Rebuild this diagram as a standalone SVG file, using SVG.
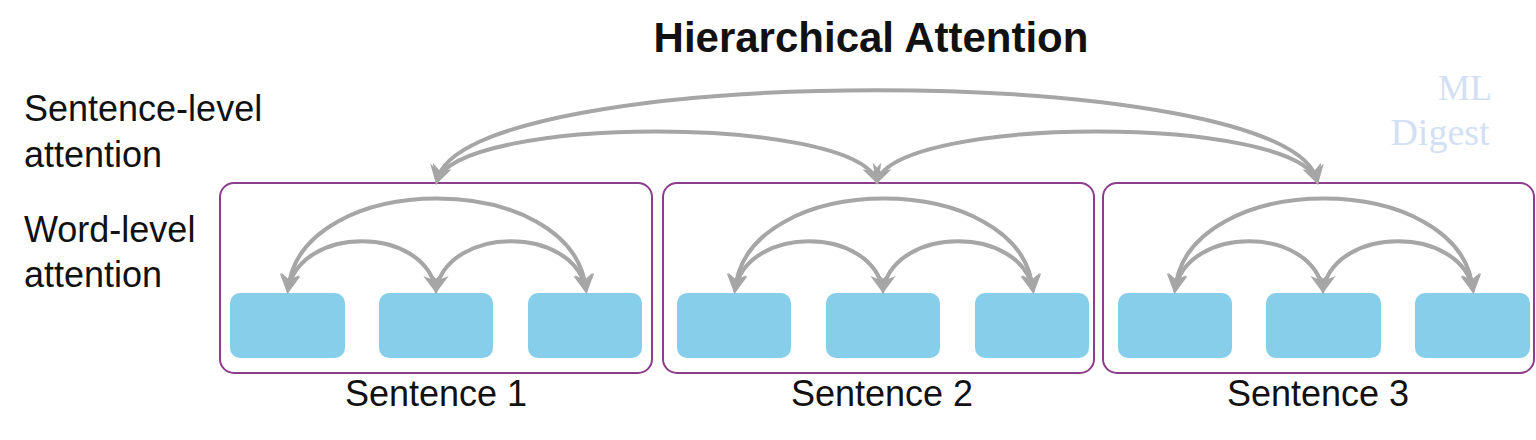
<svg xmlns="http://www.w3.org/2000/svg" width="1536" height="440" viewBox="0 0 1536 440">
<style>
.t{font-family:"Liberation Sans",Arial,sans-serif;fill:#111}
.lbl{font-size:36px}
.sent{fill:#fff;stroke:#8e3d8c;stroke-width:2}
.word{fill:#87ceeb}
.arc{fill:none;stroke:#a6a6a6;stroke-width:4;marker-start:url(#ah);marker-end:url(#ah)}
</style>
<defs>
<marker id="ah" viewBox="0 0 10 10" refX="8" refY="5" markerWidth="5" markerHeight="5" orient="auto-start-reverse" markerUnits="strokeWidth">
<path d="M0,0 L10,5 L0,10 L3,5 Z" fill="#a6a6a6"/>
</marker>
</defs>
<rect width="1536" height="440" fill="#fff"/>
<text class="t" x="871" y="52" font-size="42" font-weight="bold" text-anchor="middle">Hierarchical Attention</text>
<g id="watermark" font-family="'Liberation Serif',serif" fill="#d3e0f3" text-anchor="middle">
<text x="1465" y="100" font-size="36">ML</text><text x="1440" y="145" font-size="38">Digest</text>
</g>
<g id="labels">
<text class="t lbl" x="24" y="121">Sentence-level</text>
<text class="t lbl" x="24" y="167">attention</text>
<text class="t lbl" x="24" y="242">Word-level</text>
<text class="t lbl" x="24" y="287">attention</text>
</g>
<g id="sentence1">
<rect class="sent" x="220" y="183" width="432" height="190" rx="14"/>
<rect class="word" x="230" y="293" width="115" height="65" rx="10"/>
<rect class="word" x="379" y="293" width="114" height="65" rx="10"/>
<rect class="word" x="528" y="293" width="114" height="65" rx="10"/>
<text class="t lbl" x="436" y="406" text-anchor="middle">Sentence 1</text>
</g>
<g id="sentence2">
<rect class="sent" x="663" y="183" width="431" height="190" rx="14"/>
<rect class="word" x="677" y="293" width="114" height="65" rx="10"/>
<rect class="word" x="826" y="293" width="114" height="65" rx="10"/>
<rect class="word" x="975" y="293" width="114" height="65" rx="10"/>
<text class="t lbl" x="882" y="406" text-anchor="middle">Sentence 2</text>
</g>
<g id="sentence3">
<rect class="sent" x="1103" y="183" width="431" height="190" rx="14"/>
<rect class="word" x="1118" y="293" width="114" height="65" rx="10"/>
<rect class="word" x="1266" y="293" width="115" height="65" rx="10"/>
<rect class="word" x="1415" y="293" width="115" height="65" rx="10"/>
<text class="t lbl" x="1318" y="406" text-anchor="middle">Sentence 3</text>
</g>
<g id="connectors">
<path class="arc" d="M288 290 C300 168 574 168 586 290"/>
<path class="arc" d="M288 290 C300 225 424 225 436 290"/>
<path class="arc" d="M436 290 C448 225 574 225 586 290"/>
<path class="arc" d="M735 290 C747 168 1021 168 1033 290"/>
<path class="arc" d="M735 290 C747 225 871 225 883 290"/>
<path class="arc" d="M883 290 C895 225 1021 225 1033 290"/>
<path class="arc" d="M1175 290 C1187 168 1461 168 1473 290"/>
<path class="arc" d="M1175 290 C1187 225 1311 225 1323 290"/>
<path class="arc" d="M1323 290 C1335 225 1461 225 1473 290"/>
<path class="arc" d="M437 181 C460 60 1294 60 1317 181"/>
<path class="arc" d="M437 181 C460 115 854 115 877 181"/>
<path class="arc" d="M877 181 C900 115 1294 115 1317 181"/>
</g>
</svg>
